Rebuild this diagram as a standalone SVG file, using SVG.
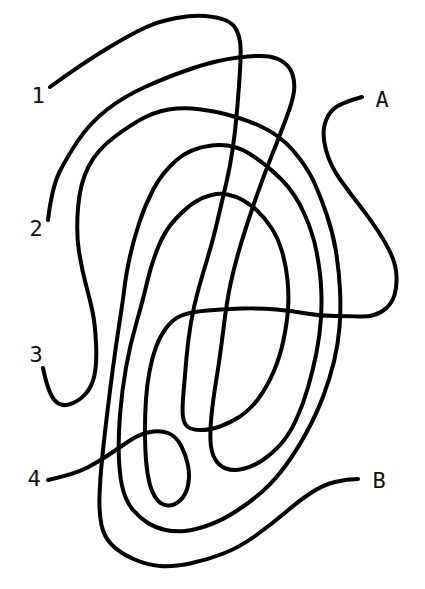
<svg xmlns="http://www.w3.org/2000/svg" width="425" height="589" viewBox="0 0 425 589">
<style>
.ln{fill:none;stroke:#000;stroke-width:4;stroke-linecap:round;stroke-linejoin:round}
.lb{font-family:"DejaVu Sans Mono","Liberation Mono",monospace;font-size:22px;fill:#111;text-anchor:middle}
</style>
<rect width="425" height="589" fill="#fff"/>
<g id="lines">
<path id="line-1-3" class="ln" d="M50 87 Q83 63 108 48 Q133 33 146.5 27 Q160 21 176.5 18 Q193 15 205 16 Q217 17 225 20 Q233 23 236.5 30 Q240 37 240.5 47 Q241 57 239.5 78.5 Q238 100 236.5 116.5 Q235 133 232.5 150 Q230 167 226.5 182 Q223 197 218 218.5 Q213 240 208 256.5 Q203 273 198.5 289 Q194 305 191 322.5 Q188 340 186.5 357.5 Q185 375 183.5 392.5 Q182 410 183 417 Q184 424 188 427 Q192 430 201 430 Q210 430 220 426.5 Q230 423 240 416.5 Q250 410 258.5 398.5 Q267 387 273.5 372 Q280 357 283.5 340 Q287 323 288 309 Q289 295 287.5 280 Q286 265 282 251.5 Q278 238 271.5 228 Q265 218 257.5 211 Q250 204 242.5 200 Q235 196 227.5 194.5 Q220 193 211.5 195 Q203 197 195 202 Q187 207 176 218.5 Q165 230 158 247.5 Q151 265 147 282.5 Q143 300 136.5 322.5 Q130 345 126 367.5 Q122 390 120 415 Q118 440 119 460 Q120 480 123.5 491.5 Q127 503 133.5 510.5 Q140 518 148 523 Q156 528 165.5 530 Q175 532 185 531 Q195 530 209 525 Q223 520 238 510 Q253 500 264 490 Q275 480 286 465 Q297 450 307 431.5 Q317 413 323.5 395.5 Q330 378 334 361.5 Q338 345 339.5 327.5 Q341 310 340 290 Q339 270 336 251.5 Q333 233 326.5 214 Q320 195 313.5 181 Q307 167 293.5 151 Q280 135 260 126 Q240 117 216.5 112 Q193 107 176.5 108.5 Q160 110 146.5 116.5 Q133 123 115 136.5 Q97 150 88.5 166.5 Q80 183 78 208 Q76 233 79 251.5 Q82 270 86 285 Q90 300 92.5 311.5 Q95 323 96 343 Q97 363 94.5 375 Q92 387 85 394.5 Q78 402 69 404.5 Q60 407 54 399.5 Q48 392 43 368"/>
<path id="line-2-B" class="ln" d="M48 220 Q52 187 59.5 172 Q67 157 78.5 140 Q90 123 106.5 110 Q123 97 145 87 Q167 77 192 68.5 Q217 60 238.5 57.5 Q260 55 269 56.5 Q278 58 284 62.5 Q290 67 292.5 74.5 Q295 82 294 91 Q293 100 286.5 117.5 Q280 135 271 157.5 Q262 180 253 206.5 Q244 233 239 250.5 Q234 268 230.5 284 Q227 300 223.5 328.5 Q220 357 216.5 378.5 Q213 400 211.5 415 Q210 430 210.5 441 Q211 452 215 459 Q219 466 226 468.5 Q233 471 242.5 469 Q252 467 262 460.5 Q272 454 280.5 444.5 Q289 435 296 420 Q303 405 308 387.5 Q313 370 316.5 352.5 Q320 335 321 317.5 Q322 300 321 285 Q320 270 316.5 251.5 Q313 233 304 213 Q295 193 281 179 Q267 165 250 154 Q233 143 211.5 145.5 Q190 148 176 160.5 Q162 173 153.5 189 Q145 205 139 223.5 Q133 242 129.5 258.5 Q126 275 124.5 287.5 Q123 300 119.5 322.5 Q116 345 113 367.5 Q110 390 107 415 Q104 440 102 460 Q100 480 99.5 496.5 Q99 513 101.5 525 Q104 537 112 545 Q120 553 133.5 559 Q147 565 160 566 Q173 567 190 563.5 Q207 560 223.5 553.5 Q240 547 256.5 535 Q273 523 286.5 511.5 Q300 500 311.5 492.5 Q323 485 335 482 Q347 479 358 479"/>
<path id="line-4-A" class="ln" d="M48 480 Q75 474 87.5 467.5 Q100 461 111.5 453 Q123 445 131.5 439.5 Q140 434 150 432 Q160 430 168 433 Q176 436 181 445.5 Q186 455 188 465.5 Q190 476 188 485.5 Q186 495 180 500.5 Q174 506 167.5 505.5 Q161 505 156.5 499 Q152 493 149.5 483 Q147 473 146 460 Q145 447 145 430 Q145 413 146 399 Q147 385 149.5 371.5 Q152 358 156 347 Q160 336 166.5 327.5 Q173 319 181.5 315.5 Q190 312 207.5 310.5 Q225 309 242.5 308.5 Q260 308 276.5 309.5 Q293 311 306.5 313.5 Q320 316 335 316 Q350 316 358.5 316.5 Q367 317 374 315 Q381 313 386.5 308 Q392 303 394.5 295 Q397 287 396.5 276 Q396 265 391 254 Q386 243 377 229.5 Q368 216 358.5 204 Q349 192 339.5 178.5 Q330 165 326 150 Q322 135 324.5 125 Q327 115 333.5 109 Q340 103 362 97"/>
</g>
<g id="labels">
<text id="label-1" class="lb" x="38" y="103">1</text>
<text id="label-2" class="lb" x="36" y="236">2</text>
<text id="label-3" class="lb" x="36" y="362">3</text>
<text id="label-4" class="lb" x="34" y="486">4</text>
<text id="label-A" class="lb" x="382" y="107">A</text>
<text id="label-B" class="lb" x="379" y="488">B</text>
</g>
</svg>
